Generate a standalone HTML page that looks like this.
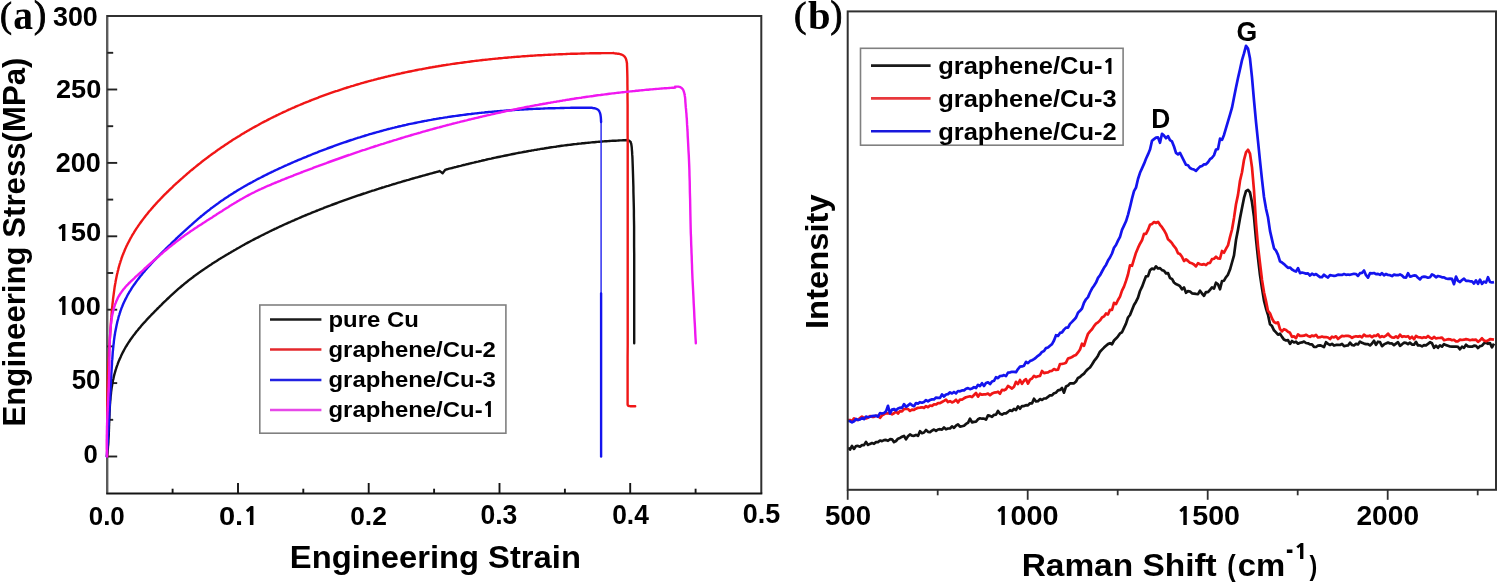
<!DOCTYPE html><html><head><meta charset="utf-8"><title>Figure</title><style>html,body{margin:0;padding:0;background:#fff;width:1500px;height:584px;overflow:hidden}svg{display:block}text{font-family:'Liberation Sans', Arial, Helvetica, sans-serif;font-weight:bold}</style></head><body>
<svg width="1500" height="584" viewBox="0 0 1500 584">
<rect width="1500" height="584" fill="#fff"/>
<path d="M107.2,493.5 V15.9 H761.3 V493.5" fill="none" stroke="#303030" stroke-width="2"/>
<line x1="106.2" y1="493.5" x2="762.3" y2="493.5" stroke="#141414" stroke-width="2.1"/>
<line x1="107.2" y1="16.9" x2="107.2" y2="492.5" stroke="#5c5c5c" stroke-width="2"/>
<line x1="107.2" y1="419.8" x2="113.2" y2="419.8" stroke="#222" stroke-width="1.9"/>
<line x1="107.2" y1="383.1" x2="117.2" y2="383.1" stroke="#222" stroke-width="1.9"/>
<line x1="107.2" y1="346.4" x2="113.2" y2="346.4" stroke="#222" stroke-width="1.9"/>
<line x1="107.2" y1="309.7" x2="117.2" y2="309.7" stroke="#222" stroke-width="1.9"/>
<line x1="107.2" y1="273.0" x2="113.2" y2="273.0" stroke="#222" stroke-width="1.9"/>
<line x1="107.2" y1="236.3" x2="117.2" y2="236.3" stroke="#222" stroke-width="1.9"/>
<line x1="107.2" y1="199.6" x2="113.2" y2="199.6" stroke="#222" stroke-width="1.9"/>
<line x1="107.2" y1="162.9" x2="117.2" y2="162.9" stroke="#222" stroke-width="1.9"/>
<line x1="107.2" y1="126.2" x2="113.2" y2="126.2" stroke="#222" stroke-width="1.9"/>
<line x1="107.2" y1="89.5" x2="117.2" y2="89.5" stroke="#222" stroke-width="1.9"/>
<line x1="107.2" y1="52.8" x2="113.2" y2="52.8" stroke="#222" stroke-width="1.9"/>
<line x1="107.2" y1="456.5" x2="117.2" y2="456.5" stroke="#222" stroke-width="1.9"/>
<line x1="172.6" y1="493.5" x2="172.6" y2="488.7" stroke="#141414" stroke-width="1.9"/>
<line x1="238.0" y1="493.5" x2="238.0" y2="483.0" stroke="#141414" stroke-width="1.9"/>
<line x1="303.3" y1="493.5" x2="303.3" y2="488.7" stroke="#141414" stroke-width="1.9"/>
<line x1="368.7" y1="493.5" x2="368.7" y2="483.0" stroke="#141414" stroke-width="1.9"/>
<line x1="434.1" y1="493.5" x2="434.1" y2="488.7" stroke="#141414" stroke-width="1.9"/>
<line x1="499.5" y1="493.5" x2="499.5" y2="483.0" stroke="#141414" stroke-width="1.9"/>
<line x1="564.9" y1="493.5" x2="564.9" y2="488.7" stroke="#141414" stroke-width="1.9"/>
<line x1="630.2" y1="493.5" x2="630.2" y2="483.0" stroke="#141414" stroke-width="1.9"/>
<line x1="695.6" y1="493.5" x2="695.6" y2="488.7" stroke="#141414" stroke-width="1.9"/>
<polyline points="106.9,456.4 107.1,455.0 107.3,453.6 107.5,452.1 107.6,450.7 107.8,449.2 107.9,447.8 108.0,446.3 108.2,444.8 108.3,443.3 108.4,441.9 108.4,440.4 108.5,438.9 108.6,437.4 108.7,435.9 108.8,434.4 108.8,432.9 108.9,431.4 108.9,429.9 109.0,428.4 109.0,426.9 109.1,425.4 109.1,423.8 109.2,422.3 109.2,420.8 109.3,419.3 109.4,417.8 109.4,416.2 109.5,414.7 109.5,413.2 109.6,411.7 109.7,410.2 109.7,408.6 109.8,407.1 109.9,405.6 110.0,404.1 110.1,402.6 110.2,401.1 110.4,399.5 110.5,398.0 110.6,396.5 110.8,395.0 111.0,393.5 111.1,392.0 111.3,390.5 111.5,389.1 111.7,387.6 112.0,386.1 112.2,384.6 112.5,383.1 112.8,381.7 113.0,380.2 113.4,378.8 113.7,377.3 114.0,375.9 114.4,374.4 114.8,373.0 115.2,371.6 115.6,370.2 116.1,368.7 116.5,367.3 117.0,365.9 117.5,364.6 118.0,363.2 118.5,361.8 119.1,360.4 119.7,359.1 120.3,357.7 120.9,356.4 121.5,355.0 122.1,353.7 122.8,352.4 123.5,351.1 124.2,349.8 124.9,348.5 125.6,347.2 126.4,346.0 127.2,344.7 128.0,343.4 128.8,342.2 129.6,341.0 130.4,339.7 131.3,338.5 132.2,337.3 133.0,336.1 133.9,334.9 134.9,333.7 135.8,332.5 136.7,331.3 137.7,330.2 138.6,329.0 139.6,327.9 140.6,326.7 141.5,325.6 142.5,324.4 143.5,323.3 144.6,322.2 145.6,321.1 146.6,319.9 147.6,318.8 148.7,317.7 149.7,316.6 150.8,315.5 151.8,314.4 152.9,313.3 153.9,312.3 155.0,311.2 156.1,310.1 157.1,309.0 158.2,308.0 159.3,306.9 160.3,305.8 161.4,304.8 162.5,303.7 163.5,302.7 164.6,301.6 165.7,300.6 166.8,299.5 167.9,298.5 169.0,297.5 170.1,296.4 171.2,295.4 172.3,294.4 173.4,293.4 174.5,292.4 175.6,291.4 176.7,290.4 177.8,289.4 178.9,288.4 180.1,287.5 181.2,286.5 182.4,285.5 183.5,284.6 184.6,283.6 185.8,282.7 187.0,281.8 188.1,280.8 189.3,279.9 190.5,279.0 191.7,278.1 192.9,277.2 194.0,276.3 195.2,275.4 196.4,274.6 197.6,273.7 198.9,272.8 200.1,271.9 201.3,271.1 202.5,270.2 203.7,269.4 205.0,268.6 206.2,267.7 207.4,266.9 208.7,266.1 209.9,265.2 211.2,264.4 212.4,263.6 213.7,262.8 214.9,262.0 216.2,261.2 217.4,260.4 218.7,259.6 220.0,258.8 221.2,258.0 222.5,257.3 223.8,256.5 225.0,255.7 226.3,254.9 227.6,254.2 228.9,253.4 230.2,252.7 231.4,251.9 232.7,251.2 234.0,250.4 235.3,249.7 236.6,248.9 237.9,248.2 239.2,247.5 240.5,246.7 241.8,246.0 243.1,245.3 244.4,244.6 245.7,243.8 247.0,243.1 248.3,242.4 249.6,241.7 250.9,241.0 252.3,240.3 253.6,239.6 254.9,238.9 256.2,238.2 257.6,237.6 258.9,236.9 260.2,236.2 261.5,235.5 262.9,234.9 264.2,234.2 265.5,233.5 266.9,232.9 268.2,232.2 269.6,231.5 270.9,230.9 272.2,230.2 273.6,229.6 274.9,228.9 276.3,228.3 277.6,227.7 279.0,227.0 280.3,226.4 281.7,225.8 283.1,225.1 284.4,224.5 285.8,223.9 287.1,223.3 288.5,222.7 289.9,222.1 291.2,221.5 292.6,220.9 294.0,220.3 295.3,219.7 296.7,219.1 298.1,218.5 299.5,217.9 300.8,217.3 302.2,216.7 303.6,216.1 305.0,215.5 306.4,215.0 307.7,214.4 309.1,213.8 310.5,213.3 311.9,212.7 313.3,212.1 314.7,211.6 316.1,211.0 317.5,210.5 318.9,209.9 320.2,209.3 321.6,208.8 323.0,208.3 324.4,207.7 325.8,207.2 327.2,206.6 328.6,206.1 330.0,205.6 331.5,205.0 332.9,204.5 334.3,204.0 335.7,203.5 337.1,203.0 338.5,202.4 339.9,201.9 341.3,201.4 342.7,200.9 344.1,200.4 345.6,199.9 347.0,199.4 348.4,198.9 349.8,198.4 351.2,197.9 352.6,197.4 354.1,196.9 355.5,196.4 356.9,195.9 358.3,195.4 359.8,195.0 361.2,194.5 362.6,194.0 364.0,193.5 365.5,193.1 366.9,192.6 368.3,192.1 369.8,191.6 371.2,191.2 372.6,190.7 374.0,190.3 375.5,189.8 376.9,189.3 378.3,188.9 379.8,188.4 381.2,188.0 382.6,187.5 384.1,187.1 385.5,186.6 387.0,186.2 388.4,185.8 389.8,185.3 391.3,184.9 392.7,184.4 394.2,184.0 395.6,183.6 397.0,183.1 398.5,182.7 399.9,182.3 401.4,181.9 402.8,181.4 404.2,181.0 405.7,180.6 407.1,180.2 408.6,179.8 410.0,179.3 411.5,178.9 412.9,178.5 414.4,178.1 415.8,177.7 417.3,177.3 418.7,176.9 420.1,176.5 421.6,176.1 423.0,175.7 424.5,175.3 425.9,174.9 427.4,174.5 428.8,174.1 430.3,173.7 431.7,173.3 433.2,172.9 434.6,172.5 436.1,172.1 437.5,171.7 439.0,171.4 439.5,170.9 442.6,173.2 445.5,169.6 446.2,169.5 447.7,169.1 449.1,168.7 450.6,168.3 452.0,168.0 453.5,167.6 454.9,167.2 456.4,166.9 457.8,166.5 459.3,166.1 460.7,165.8 462.2,165.4 463.6,165.0 465.1,164.7 466.5,164.3 468.0,164.0 469.4,163.6 470.9,163.3 472.3,162.9 473.8,162.6 475.2,162.2 476.7,161.9 478.2,161.6 479.6,161.2 481.1,160.9 482.5,160.5 484.0,160.2 485.4,159.9 486.9,159.5 488.3,159.2 489.8,158.9 491.3,158.6 492.7,158.2 494.2,157.9 495.6,157.6 497.1,157.3 498.5,157.0 500.0,156.7 501.5,156.4 502.9,156.1 504.4,155.8 505.8,155.5 507.3,155.2 508.8,154.9 510.2,154.6 511.7,154.3 513.1,154.0 514.6,153.7 516.1,153.4 517.5,153.1 519.0,152.8 520.5,152.6 521.9,152.3 523.4,152.0 524.9,151.7 526.3,151.5 527.8,151.2 529.3,150.9 530.7,150.7 532.2,150.4 533.7,150.2 535.1,149.9 536.6,149.7 538.1,149.4 539.6,149.2 541.0,148.9 542.5,148.7 544.0,148.5 545.5,148.2 546.9,148.0 548.4,147.8 549.9,147.5 551.4,147.3 552.8,147.1 554.3,146.9 555.8,146.7 557.3,146.4 558.8,146.2 560.2,146.0 561.7,145.8 563.2,145.6 564.7,145.4 566.2,145.2 567.7,145.0 569.1,144.9 570.6,144.7 572.1,144.5 573.6,144.3 575.1,144.1 576.6,144.0 578.1,143.8 579.6,143.6 581.0,143.5 582.5,143.3 584.0,143.2 585.5,143.0 587.0,142.9 588.5,142.7 590.0,142.6 591.5,142.4 593.0,142.3 594.5,142.2 596.0,142.0 597.5,141.9 599.0,141.8 600.5,141.7 602.0,141.5 603.5,141.4 605.0,141.3 606.5,141.2 608.0,141.1 609.5,141.0 611.0,140.9 612.6,140.8 614.1,140.7 615.6,140.7 617.1,140.6 618.6,140.5 620.1,140.4 621.6,140.4 623.2,140.3 624.7,140.2 626.2,140.2 626.1,140.0 626.2,140.0 626.3,140.1 626.5,140.1 626.8,140.1 627.1,140.2 627.5,140.3 628.0,140.3 628.4,140.4 628.8,140.6 629.2,140.8 629.5,141.0 629.8,141.3 630.1,141.5 630.4,141.9 630.7,142.2 630.9,142.9 631.2,143.7 631.4,144.9 631.6,146.2 631.8,147.9 631.9,149.8 632.1,151.9 632.2,154.4 632.4,156.9 632.5,159.5 632.6,162.2 632.7,165.0 632.8,167.9 632.9,170.9 633.0,174.0 633.1,177.3 633.2,180.6 633.3,184.0 633.4,187.4 633.4,191.0 633.5,194.7 633.6,198.4 633.7,202.3 633.8,206.2 633.9,210.6 633.9,215.4 634.0,220.7 634.1,226.4 634.1,232.6 634.1,239.2 634.1,246.2 634.2,253.8 634.2,261.3 634.2,268.9 634.2,276.6 634.2,284.3 634.2,292.0 634.2,299.8 634.2,307.7 634.2,315.6 634.2,322.5 634.2,328.5 634.2,333.4 634.2,337.4 634.2,340.3 634.2,342.3 634.2,343.3" fill="none" stroke="#121212" stroke-width="2.4" stroke-linejoin="round" stroke-linecap="round"/>
<polyline points="107.1,456.5 107.1,455.0 107.1,453.5 107.1,452.0 107.1,450.5 107.1,449.0 107.1,447.5 107.1,446.0 107.1,444.5 107.1,443.0 107.1,441.5 107.1,440.0 107.2,438.5 107.2,437.0 107.2,435.5 107.2,434.0 107.2,432.5 107.2,431.0 107.2,429.5 107.2,428.0 107.2,426.5 107.2,425.0 107.2,423.5 107.2,422.0 107.2,420.5 107.2,419.0 107.2,417.5 107.2,416.0 107.3,414.5 107.3,413.0 107.3,411.5 107.3,410.0 107.3,408.5 107.3,407.0 107.3,405.5 107.3,404.0 107.4,402.5 107.4,401.0 107.4,399.5 107.4,398.0 107.4,396.5 107.5,395.1 107.5,393.6 107.5,392.1 107.5,390.6 107.6,389.1 107.6,387.6 107.6,386.1 107.7,384.6 107.7,383.1 107.8,381.6 107.8,380.1 107.8,378.7 107.9,377.2 107.9,375.7 108.0,374.2 108.0,372.7 108.1,371.2 108.2,369.7 108.2,368.2 108.3,366.7 108.3,365.3 108.4,363.8 108.5,362.3 108.6,360.8 108.6,359.3 108.7,357.8 108.8,356.3 108.9,354.8 108.9,353.3 109.0,351.8 109.1,350.4 109.2,348.9 109.3,347.4 109.4,345.9 109.5,344.4 109.6,342.9 109.7,341.4 109.8,339.9 109.9,338.4 110.0,336.9 110.1,335.4 110.2,333.9 110.3,332.4 110.4,330.9 110.5,329.4 110.6,327.9 110.7,326.4 110.8,324.9 110.9,323.4 111.0,321.9 111.1,320.4 111.2,318.9 111.4,317.4 111.5,315.8 111.6,314.3 111.7,312.8 111.8,311.3 112.0,309.8 112.1,308.3 112.2,306.8 112.4,305.3 112.5,303.8 112.7,302.3 112.9,300.8 113.0,299.3 113.2,297.8 113.4,296.3 113.6,294.8 113.8,293.3 114.0,291.8 114.2,290.3 114.4,288.8 114.6,287.3 114.9,285.8 115.1,284.3 115.4,282.9 115.6,281.4 115.9,279.9 116.2,278.5 116.5,277.0 116.8,275.5 117.1,274.1 117.5,272.6 117.8,271.2 118.2,269.8 118.5,268.3 118.9,266.9 119.3,265.5 119.7,264.0 120.2,262.6 120.6,261.2 121.1,259.8 121.5,258.4 122.0,257.0 122.5,255.6 123.1,254.3 123.6,252.9 124.2,251.5 124.7,250.2 125.3,248.8 125.9,247.5 126.5,246.1 127.2,244.8 127.8,243.5 128.5,242.2 129.2,240.9 129.9,239.5 130.6,238.2 131.3,237.0 132.0,235.7 132.8,234.4 133.6,233.1 134.3,231.9 135.1,230.6 135.9,229.3 136.7,228.1 137.6,226.9 138.4,225.6 139.3,224.4 140.1,223.2 141.0,222.0 141.9,220.8 142.8,219.6 143.7,218.4 144.6,217.2 145.5,216.0 146.5,214.8 147.4,213.7 148.3,212.5 149.3,211.3 150.3,210.2 151.3,209.0 152.3,207.9 153.2,206.8 154.3,205.6 155.3,204.5 156.3,203.4 157.3,202.3 158.3,201.2 159.4,200.1 160.4,199.0 161.5,197.9 162.5,196.8 163.6,195.7 164.6,194.7 165.7,193.6 166.8,192.5 167.9,191.5 169.0,190.4 170.0,189.4 171.1,188.3 172.2,187.3 173.3,186.2 174.4,185.2 175.5,184.2 176.6,183.1 177.8,182.1 178.9,181.1 180.0,180.1 181.1,179.1 182.3,178.1 183.4,177.1 184.5,176.1 185.7,175.1 186.8,174.1 187.9,173.1 189.1,172.2 190.2,171.2 191.4,170.2 192.6,169.3 193.7,168.3 194.9,167.4 196.1,166.4 197.2,165.5 198.4,164.5 199.6,163.6 200.8,162.7 201.9,161.7 203.1,160.8 204.3,159.9 205.5,159.0 206.7,158.1 207.9,157.2 209.1,156.3 210.3,155.4 211.5,154.5 212.8,153.6 214.0,152.7 215.2,151.9 216.4,151.0 217.6,150.1 218.9,149.3 220.1,148.4 221.3,147.6 222.6,146.7 223.8,145.9 225.0,145.1 226.3,144.2 227.5,143.4 228.8,142.6 230.0,141.8 231.3,140.9 232.5,140.1 233.8,139.3 235.1,138.5 236.3,137.7 237.6,136.9 238.9,136.2 240.1,135.4 241.4,134.6 242.7,133.8 244.0,133.1 245.2,132.3 246.5,131.6 247.8,130.8 249.1,130.1 250.4,129.3 251.7,128.6 253.0,127.8 254.3,127.1 255.6,126.4 256.9,125.7 258.2,125.0 259.5,124.2 260.8,123.5 262.1,122.8 263.4,122.1 264.8,121.4 266.1,120.8 267.4,120.1 268.7,119.4 270.0,118.7 271.4,118.0 272.7,117.4 274.0,116.7 275.4,116.1 276.7,115.4 278.0,114.8 279.4,114.1 280.7,113.5 282.1,112.8 283.4,112.2 284.8,111.6 286.1,111.0 287.5,110.3 288.8,109.7 290.2,109.1 291.5,108.5 292.9,107.9 294.3,107.3 295.6,106.7 297.0,106.1 298.4,105.5 299.7,105.0 301.1,104.4 302.5,103.8 303.9,103.2 305.2,102.7 306.6,102.1 308.0,101.6 309.4,101.0 310.8,100.5 312.1,99.9 313.5,99.4 314.9,98.8 316.3,98.3 317.7,97.8 319.1,97.2 320.5,96.7 321.9,96.2 323.3,95.7 324.7,95.2 326.1,94.7 327.5,94.2 328.9,93.7 330.3,93.2 331.7,92.7 333.1,92.2 334.6,91.7 336.0,91.2 337.4,90.8 338.8,90.3 340.2,89.8 341.6,89.4 343.1,88.9 344.5,88.4 345.9,88.0 347.3,87.5 348.8,87.1 350.2,86.7 351.6,86.2 353.0,85.8 354.5,85.3 355.9,84.9 357.3,84.5 358.8,84.1 360.2,83.7 361.7,83.2 363.1,82.8 364.5,82.4 366.0,82.0 367.4,81.6 368.9,81.2 370.3,80.8 371.8,80.4 373.2,80.1 374.7,79.7 376.1,79.3 377.6,78.9 379.0,78.5 380.5,78.2 381.9,77.8 383.4,77.5 384.8,77.1 386.3,76.7 387.8,76.4 389.2,76.0 390.7,75.7 392.2,75.3 393.6,75.0 395.1,74.7 396.5,74.3 398.0,74.0 399.5,73.7 400.9,73.4 402.4,73.0 403.9,72.7 405.4,72.4 406.8,72.1 408.3,71.8 409.8,71.5 411.3,71.2 412.7,70.9 414.2,70.6 415.7,70.3 417.2,70.0 418.6,69.7 420.1,69.4 421.6,69.2 423.1,68.9 424.6,68.6 426.0,68.3 427.5,68.1 429.0,67.8 430.5,67.5 432.0,67.3 433.5,67.0 434.9,66.8 436.4,66.5 437.9,66.3 439.4,66.0 440.9,65.8 442.4,65.5 443.9,65.3 445.4,65.1 446.9,64.8 448.3,64.6 449.8,64.4 451.3,64.1 452.8,63.9 454.3,63.7 455.8,63.5 457.3,63.3 458.8,63.1 460.3,62.9 461.8,62.7 463.3,62.5 464.8,62.3 466.3,62.1 467.8,61.9 469.3,61.7 470.7,61.5 472.2,61.3 473.7,61.1 475.2,60.9 476.7,60.7 478.2,60.6 479.7,60.4 481.2,60.2 482.7,60.0 484.2,59.9 485.7,59.7 487.2,59.6 488.7,59.4 490.2,59.2 491.7,59.1 493.2,58.9 494.7,58.8 496.2,58.6 497.7,58.5 499.2,58.3 500.7,58.2 502.2,58.1 503.7,57.9 505.2,57.8 506.7,57.7 508.2,57.5 509.7,57.4 511.2,57.3 512.7,57.1 514.2,57.0 515.7,56.9 517.2,56.8 518.7,56.7 520.2,56.6 521.7,56.4 523.2,56.3 524.7,56.2 526.2,56.1 527.7,56.0 529.2,55.9 530.7,55.8 532.2,55.7 533.7,55.6 535.2,55.5 536.7,55.4 538.1,55.3 539.6,55.3 541.1,55.2 542.6,55.1 544.1,55.0 545.6,54.9 547.1,54.9 548.6,54.8 550.1,54.7 551.6,54.6 553.1,54.6 554.6,54.5 556.1,54.4 557.5,54.4 559.0,54.3 560.5,54.2 562.0,54.2 563.5,54.1 565.0,54.1 566.5,54.0 568.0,53.9 569.4,53.9 570.9,53.8 572.4,53.8 573.9,53.8 575.4,53.7 576.9,53.7 578.3,53.6 579.8,53.6 581.3,53.5 582.8,53.5 584.2,53.5 585.7,53.4 587.2,53.4 588.7,53.4 590.2,53.3 591.6,53.3 593.1,53.3 594.6,53.3 596.0,53.2 597.5,53.2 599.0,53.2 600.5,53.2 601.9,53.1 603.4,53.1 604.9,53.1 606.3,53.1 607.8,53.1 609.2,53.1 610.7,53.1 612.2,53.1 613.6,53.0 614.1,53.3 614.3,53.3 614.6,53.4 615.1,53.4 615.6,53.5 616.2,53.5 617.0,53.6 617.8,53.7 618.6,53.8 619.4,53.9 620.1,54.1 620.8,54.3 621.4,54.5 621.9,54.7 622.5,55.0 622.9,55.2 623.4,55.5 623.8,55.9 624.2,56.2 624.5,56.6 624.9,57.0 625.2,57.4 625.4,57.9 625.7,58.3 625.9,58.8 626.1,59.4 626.3,60.0 626.4,60.6 626.6,61.2 626.7,61.9 626.8,62.6 627.0,63.4 627.0,64.9 627.1,67.1 627.2,70.1 627.3,73.9 627.4,78.4 627.4,83.6 627.5,89.6 627.5,96.4 627.6,105.1 627.6,115.8 627.6,128.4 627.7,143.1 627.7,159.7 627.7,178.2 627.7,198.8 627.7,221.2 627.7,242.6 627.7,262.7 627.7,281.6 627.7,299.3 627.7,315.8 627.7,331.1 627.7,345.3 627.6,358.2 627.6,369.6 627.6,379.3 627.6,387.5 627.6,394.1 627.6,399.1 627.6,402.6 627.6,404.4 627.7,404.7 627.7,404.9 627.8,405.1 627.9,405.3 628.0,405.5 628.1,405.6 628.3,405.8 628.5,405.9 628.7,405.9 629.0,406.0 629.3,406.1 629.8,406.1 630.2,406.2 630.8,406.2 631.3,406.2 632.0,406.2 632.7,406.3 633.3,406.3 633.9,406.3 634.3,406.3 634.7,406.3 634.9,406.3 635.1,406.3 635.2,406.3" fill="none" stroke="#f01616" stroke-width="2.4" stroke-linejoin="round" stroke-linecap="round"/>
<line x1="601.1" y1="121" x2="601.1" y2="294" stroke="#3030f0" stroke-width="1.5"/>
<line x1="601.1" y1="293.5" x2="601.1" y2="456.6" stroke="#1414ee" stroke-width="2.4" stroke-linecap="round"/>
<polyline points="106.8,456.5 106.9,455.0 107.0,453.5 107.1,452.0 107.2,450.5 107.3,449.0 107.4,447.5 107.5,446.0 107.6,444.5 107.7,443.0 107.8,441.5 107.9,440.0 108.0,438.5 108.0,437.0 108.1,435.5 108.2,434.0 108.3,432.5 108.4,431.0 108.5,429.5 108.5,428.1 108.6,426.6 108.7,425.1 108.8,423.6 108.9,422.1 108.9,420.6 109.0,419.1 109.1,417.6 109.2,416.2 109.3,414.7 109.3,413.2 109.4,411.7 109.5,410.2 109.6,408.7 109.6,407.2 109.7,405.8 109.8,404.3 109.9,402.8 109.9,401.3 110.0,399.8 110.1,398.3 110.2,396.8 110.2,395.3 110.3,393.8 110.4,392.3 110.5,390.8 110.5,389.4 110.6,387.9 110.7,386.4 110.8,384.9 110.9,383.4 110.9,381.9 111.0,380.4 111.1,378.9 111.2,377.4 111.3,375.9 111.3,374.3 111.4,372.8 111.5,371.3 111.6,369.8 111.7,368.3 111.8,366.8 111.9,365.3 112.0,363.8 112.0,362.2 112.1,360.7 112.3,359.2 112.4,357.7 112.5,356.2 112.6,354.7 112.7,353.1 112.8,351.6 113.0,350.1 113.1,348.6 113.3,347.1 113.4,345.6 113.6,344.1 113.8,342.6 113.9,341.1 114.1,339.6 114.3,338.1 114.5,336.6 114.8,335.1 115.0,333.6 115.2,332.2 115.5,330.7 115.8,329.2 116.1,327.7 116.4,326.3 116.7,324.8 117.0,323.4 117.3,321.9 117.7,320.5 118.1,319.1 118.4,317.7 118.8,316.2 119.3,314.8 119.7,313.4 120.2,312.0 120.6,310.7 121.1,309.3 121.6,307.9 122.2,306.5 122.7,305.2 123.3,303.8 123.9,302.5 124.5,301.2 125.1,299.9 125.8,298.6 126.5,297.3 127.1,296.0 127.8,294.7 128.6,293.4 129.3,292.1 130.1,290.9 130.9,289.6 131.6,288.4 132.4,287.2 133.3,285.9 134.1,284.7 135.0,283.5 135.8,282.3 136.7,281.1 137.6,279.9 138.5,278.7 139.4,277.5 140.3,276.3 141.3,275.2 142.2,274.0 143.2,272.8 144.2,271.7 145.1,270.5 146.1,269.4 147.1,268.3 148.1,267.1 149.2,266.0 150.2,264.9 151.2,263.8 152.2,262.7 153.3,261.5 154.3,260.4 155.4,259.3 156.4,258.2 157.5,257.2 158.6,256.1 159.6,255.0 160.7,253.9 161.8,252.8 162.9,251.7 164.0,250.7 165.0,249.6 166.1,248.5 167.2,247.5 168.3,246.4 169.4,245.3 170.5,244.3 171.6,243.2 172.6,242.2 173.7,241.1 174.8,240.1 175.9,239.0 177.0,238.0 178.1,236.9 179.2,235.9 180.3,234.9 181.4,233.8 182.5,232.8 183.6,231.8 184.7,230.8 185.8,229.8 186.9,228.8 188.0,227.8 189.1,226.8 190.2,225.8 191.4,224.8 192.5,223.8 193.6,222.8 194.7,221.8 195.9,220.8 197.0,219.9 198.1,218.9 199.3,217.9 200.4,217.0 201.5,216.0 202.7,215.1 203.8,214.2 205.0,213.2 206.2,212.3 207.3,211.4 208.5,210.5 209.7,209.6 210.8,208.6 212.0,207.8 213.2,206.9 214.4,206.0 215.6,205.1 216.8,204.2 218.0,203.4 219.2,202.5 220.4,201.6 221.6,200.8 222.9,200.0 224.1,199.1 225.3,198.3 226.5,197.5 227.8,196.7 229.0,195.8 230.3,195.0 231.5,194.2 232.8,193.4 234.0,192.6 235.3,191.9 236.6,191.1 237.8,190.3 239.1,189.5 240.4,188.8 241.7,188.0 242.9,187.3 244.2,186.5 245.5,185.8 246.8,185.1 248.1,184.3 249.4,183.6 250.7,182.9 252.0,182.2 253.3,181.4 254.7,180.7 256.0,180.0 257.3,179.3 258.6,178.6 259.9,178.0 261.3,177.3 262.6,176.6 263.9,175.9 265.3,175.2 266.6,174.6 267.9,173.9 269.3,173.2 270.6,172.6 272.0,171.9 273.3,171.3 274.7,170.6 276.0,170.0 277.4,169.4 278.8,168.7 280.1,168.1 281.5,167.5 282.8,166.9 284.2,166.2 285.6,165.6 287.0,165.0 288.3,164.4 289.7,163.8 291.1,163.2 292.4,162.6 293.8,162.0 295.2,161.4 296.6,160.8 298.0,160.2 299.4,159.6 300.7,159.1 302.1,158.5 303.5,157.9 304.9,157.3 306.3,156.8 307.7,156.2 309.1,155.6 310.5,155.1 311.8,154.5 313.2,153.9 314.6,153.4 316.0,152.8 317.4,152.3 318.8,151.7 320.2,151.2 321.6,150.7 323.0,150.1 324.4,149.6 325.8,149.1 327.2,148.5 328.6,148.0 330.1,147.5 331.5,147.0 332.9,146.5 334.3,145.9 335.7,145.4 337.1,144.9 338.5,144.4 339.9,143.9 341.3,143.4 342.8,142.9 344.2,142.4 345.6,142.0 347.0,141.5 348.4,141.0 349.8,140.5 351.3,140.0 352.7,139.6 354.1,139.1 355.5,138.6 357.0,138.2 358.4,137.7 359.8,137.3 361.2,136.8 362.7,136.4 364.1,136.0 365.5,135.5 367.0,135.1 368.4,134.7 369.8,134.2 371.3,133.8 372.7,133.4 374.1,133.0 375.6,132.6 377.0,132.2 378.5,131.8 379.9,131.4 381.4,131.0 382.8,130.6 384.2,130.2 385.7,129.8 387.1,129.4 388.6,129.0 390.0,128.7 391.5,128.3 392.9,127.9 394.4,127.6 395.8,127.2 397.3,126.9 398.7,126.5 400.2,126.2 401.6,125.9 403.1,125.5 404.6,125.2 406.0,124.9 407.5,124.5 408.9,124.2 410.4,123.9 411.9,123.6 413.3,123.3 414.8,123.0 416.3,122.7 417.7,122.4 419.2,122.1 420.6,121.8 422.1,121.5 423.6,121.2 425.1,120.9 426.5,120.7 428.0,120.4 429.5,120.1 430.9,119.9 432.4,119.6 433.9,119.3 435.4,119.1 436.8,118.8 438.3,118.6 439.8,118.3 441.3,118.1 442.7,117.9 444.2,117.6 445.7,117.4 447.2,117.2 448.6,116.9 450.1,116.7 451.6,116.5 453.1,116.3 454.6,116.1 456.1,115.9 457.5,115.7 459.0,115.5 460.5,115.3 462.0,115.1 463.5,114.9 465.0,114.7 466.4,114.5 467.9,114.3 469.4,114.1 470.9,114.0 472.4,113.8 473.9,113.6 475.4,113.4 476.9,113.3 478.3,113.1 479.8,112.9 481.3,112.8 482.8,112.6 484.3,112.5 485.8,112.3 487.3,112.2 488.8,112.0 490.3,111.9 491.8,111.8 493.3,111.6 494.7,111.5 496.2,111.4 497.7,111.2 499.2,111.1 500.7,111.0 502.2,110.9 503.7,110.8 505.2,110.6 506.7,110.5 508.2,110.4 509.7,110.3 511.2,110.2 512.7,110.1 514.2,110.0 515.7,109.9 517.2,109.8 518.7,109.7 520.2,109.6 521.7,109.5 523.2,109.5 524.7,109.4 526.2,109.3 527.6,109.2 529.1,109.1 530.6,109.1 532.1,109.0 533.6,108.9 535.1,108.9 536.6,108.8 538.1,108.7 539.6,108.7 541.1,108.6 542.6,108.6 544.1,108.5 545.6,108.4 547.1,108.4 548.6,108.3 550.1,108.3 551.6,108.3 553.1,108.2 554.6,108.2 556.1,108.1 557.6,108.1 559.1,108.1 560.6,108.0 562.1,108.0 563.6,108.0 565.1,107.9 566.6,107.9 568.1,107.9 569.6,107.9 571.1,107.8 572.6,107.8 574.1,107.8 575.6,107.8 577.1,107.8 578.5,107.8 580.0,107.8 581.5,107.7 583.0,107.7 584.5,107.7 586.0,107.7 587.5,107.7 589.0,107.7 590.5,107.7 592.0,107.7 592.1,107.9 592.2,107.9 592.4,108.0 592.7,108.0 593.0,108.1 593.4,108.1 593.9,108.2 594.5,108.3 595.0,108.4 595.5,108.5 596.0,108.7 596.4,108.8 596.8,109.0 597.2,109.2 597.6,109.5 598.0,109.7 598.3,110.0 598.6,110.3 598.9,110.7 599.2,111.1 599.4,111.5 599.6,112.0 599.9,112.5 600.0,113.1 600.2,113.7 600.4,114.3 600.5,115.0 600.6,115.7 600.7,116.4 600.8,117.2 600.9,118.1 600.9,118.9 601.0,119.7 601.0,120.4 601.0,120.9 601.1,121.3 601.1,121.7 601.1,121.9 601.1,122.0" fill="none" stroke="#1414ee" stroke-width="2.4" stroke-linejoin="round" stroke-linecap="round"/>
<polyline points="107.0,456.5 107.0,455.0 106.9,453.5 106.9,452.0 106.9,450.5 106.8,449.0 106.8,447.4 106.8,445.9 106.8,444.4 106.8,442.9 106.8,441.4 106.8,439.9 106.8,438.4 106.8,436.9 106.8,435.4 106.9,433.9 106.9,432.4 106.9,430.9 107.0,429.4 107.0,427.9 107.0,426.4 107.1,425.0 107.1,423.5 107.2,422.0 107.2,420.5 107.3,419.0 107.4,417.5 107.4,416.0 107.5,414.5 107.5,413.0 107.6,411.5 107.7,410.0 107.7,408.5 107.8,407.1 107.9,405.6 108.0,404.1 108.0,402.6 108.1,401.1 108.2,399.6 108.2,398.1 108.3,396.6 108.4,395.1 108.4,393.6 108.5,392.1 108.6,390.7 108.6,389.2 108.7,387.7 108.8,386.2 108.8,384.7 108.9,383.2 108.9,381.7 109.0,380.2 109.1,378.7 109.1,377.2 109.1,375.7 109.2,374.2 109.2,372.7 109.3,371.2 109.3,369.7 109.3,368.2 109.3,366.7 109.4,365.2 109.4,363.7 109.4,362.2 109.4,360.7 109.4,359.1 109.4,357.6 109.5,356.1 109.5,354.6 109.5,353.1 109.5,351.6 109.5,350.1 109.6,348.6 109.6,347.1 109.6,345.6 109.7,344.0 109.7,342.5 109.8,341.0 109.8,339.5 109.9,338.0 110.0,336.5 110.1,335.0 110.2,333.5 110.3,332.0 110.4,330.5 110.5,329.0 110.6,327.5 110.8,326.0 110.9,324.5 111.1,323.0 111.3,321.5 111.5,320.0 111.7,318.6 111.9,317.1 112.2,315.6 112.5,314.1 112.8,312.7 113.1,311.3 113.5,309.8 113.8,308.4 114.2,307.0 114.7,305.6 115.1,304.2 115.7,302.9 116.2,301.5 116.8,300.2 117.4,298.9 118.0,297.6 118.7,296.3 119.5,295.0 120.2,293.8 121.1,292.6 121.9,291.4 122.8,290.2 123.7,289.1 124.7,287.9 125.6,286.8 126.6,285.7 127.7,284.6 128.7,283.5 129.8,282.5 130.9,281.4 132.0,280.3 133.1,279.3 134.2,278.3 135.3,277.2 136.4,276.2 137.6,275.2 138.7,274.1 139.8,273.1 140.9,272.1 142.1,271.1 143.2,270.1 144.3,269.0 145.4,268.0 146.6,267.0 147.7,266.0 148.8,265.0 149.9,264.0 151.0,263.0 152.2,262.0 153.3,261.0 154.4,260.0 155.5,259.0 156.7,258.0 157.8,257.1 158.9,256.1 160.0,255.1 161.2,254.1 162.3,253.2 163.4,252.2 164.6,251.2 165.7,250.3 166.9,249.3 168.0,248.4 169.1,247.4 170.3,246.5 171.5,245.6 172.6,244.6 173.8,243.7 175.0,242.8 176.1,241.9 177.3,241.0 178.5,240.1 179.7,239.2 180.9,238.3 182.1,237.4 183.3,236.5 184.5,235.6 185.7,234.8 186.9,233.9 188.2,233.0 189.4,232.2 190.6,231.3 191.9,230.5 193.1,229.7 194.4,228.8 195.6,228.0 196.9,227.2 198.1,226.3 199.4,225.5 200.7,224.7 201.9,223.9 203.2,223.0 204.5,222.2 205.7,221.4 207.0,220.6 208.3,219.8 209.5,219.0 210.8,218.2 212.1,217.4 213.3,216.6 214.6,215.7 215.9,214.9 217.1,214.1 218.4,213.3 219.6,212.5 220.9,211.7 222.2,210.9 223.4,210.1 224.7,209.3 225.9,208.5 227.2,207.7 228.5,206.9 229.7,206.1 231.0,205.3 232.2,204.5 233.5,203.8 234.8,203.0 236.1,202.2 237.3,201.4 238.6,200.7 239.9,199.9 241.2,199.2 242.5,198.5 243.8,197.7 245.1,197.0 246.4,196.3 247.7,195.6 249.0,194.9 250.3,194.2 251.6,193.5 252.9,192.9 254.3,192.2 255.6,191.5 256.9,190.9 258.3,190.2 259.6,189.6 261.0,189.0 262.3,188.4 263.7,187.8 265.1,187.1 266.4,186.5 267.8,185.9 269.2,185.4 270.6,184.8 271.9,184.2 273.3,183.6 274.7,183.0 276.1,182.5 277.5,181.9 278.8,181.3 280.2,180.8 281.6,180.2 283.0,179.6 284.4,179.1 285.8,178.5 287.2,178.0 288.6,177.4 290.0,176.9 291.4,176.3 292.8,175.8 294.1,175.2 295.5,174.7 296.9,174.1 298.3,173.6 299.7,173.1 301.1,172.5 302.5,172.0 303.9,171.4 305.3,170.9 306.7,170.4 308.1,169.8 309.5,169.3 310.9,168.8 312.3,168.3 313.7,167.7 315.1,167.2 316.5,166.7 317.9,166.2 319.3,165.6 320.8,165.1 322.2,164.6 323.6,164.1 325.0,163.6 326.4,163.1 327.8,162.5 329.2,162.0 330.6,161.5 332.0,161.0 333.4,160.5 334.8,160.0 336.2,159.5 337.7,159.0 339.1,158.5 340.5,158.0 341.9,157.5 343.3,157.0 344.7,156.5 346.1,156.0 347.5,155.5 349.0,155.0 350.4,154.6 351.8,154.1 353.2,153.6 354.6,153.1 356.0,152.6 357.5,152.1 358.9,151.7 360.3,151.2 361.7,150.7 363.1,150.2 364.6,149.8 366.0,149.3 367.4,148.8 368.8,148.4 370.3,147.9 371.7,147.4 373.1,147.0 374.5,146.5 375.9,146.0 377.4,145.6 378.8,145.1 380.2,144.7 381.7,144.2 383.1,143.8 384.5,143.3 385.9,142.9 387.4,142.4 388.8,142.0 390.2,141.5 391.7,141.1 393.1,140.6 394.5,140.2 395.9,139.8 397.4,139.3 398.8,138.9 400.2,138.5 401.7,138.0 403.1,137.6 404.5,137.2 406.0,136.7 407.4,136.3 408.8,135.9 410.3,135.5 411.7,135.0 413.2,134.6 414.6,134.2 416.0,133.8 417.5,133.4 418.9,133.0 420.3,132.6 421.8,132.1 423.2,131.7 424.7,131.3 426.1,130.9 427.6,130.5 429.0,130.1 430.4,129.7 431.9,129.3 433.3,128.9 434.8,128.5 436.2,128.1 437.7,127.7 439.1,127.4 440.5,127.0 442.0,126.6 443.4,126.2 444.9,125.8 446.3,125.4 447.8,125.0 449.2,124.7 450.7,124.3 452.1,123.9 453.6,123.5 455.0,123.2 456.5,122.8 457.9,122.4 459.4,122.1 460.8,121.7 462.3,121.3 463.7,121.0 465.2,120.6 466.6,120.3 468.1,119.9 469.5,119.5 471.0,119.2 472.5,118.8 473.9,118.5 475.4,118.1 476.8,117.8 478.3,117.5 479.7,117.1 481.2,116.8 482.7,116.4 484.1,116.1 485.6,115.8 487.0,115.4 488.5,115.1 489.9,114.8 491.4,114.4 492.9,114.1 494.3,113.8 495.8,113.4 497.2,113.1 498.7,112.8 500.2,112.5 501.6,112.2 503.1,111.8 504.6,111.5 506.0,111.2 507.5,110.9 509.0,110.6 510.4,110.3 511.9,110.0 513.4,109.7 514.8,109.4 516.3,109.1 517.8,108.8 519.2,108.5 520.7,108.2 522.2,107.9 523.6,107.6 525.1,107.3 526.6,107.0 528.0,106.7 529.5,106.5 531.0,106.2 532.4,105.9 533.9,105.6 535.4,105.3 536.9,105.1 538.3,104.8 539.8,104.5 541.3,104.3 542.7,104.0 544.2,103.7 545.7,103.5 547.2,103.2 548.6,102.9 550.1,102.7 551.6,102.4 553.1,102.2 554.5,101.9 556.0,101.7 557.5,101.4 559.0,101.2 560.5,100.9 561.9,100.7 563.4,100.4 564.9,100.2 566.4,99.9 567.8,99.7 569.3,99.5 570.8,99.2 572.3,99.0 573.8,98.8 575.3,98.5 576.7,98.3 578.2,98.1 579.7,97.9 581.2,97.7 582.7,97.4 584.1,97.2 585.6,97.0 587.1,96.8 588.6,96.6 590.1,96.4 591.6,96.2 593.0,96.0 594.5,95.7 596.0,95.5 597.5,95.3 599.0,95.1 600.5,95.0 602.0,94.8 603.4,94.6 604.9,94.4 606.4,94.2 607.9,94.0 609.4,93.8 610.9,93.6 612.4,93.4 613.9,93.3 615.4,93.1 616.8,92.9 618.3,92.7 619.8,92.6 621.3,92.4 622.8,92.2 624.3,92.1 625.8,91.9 627.3,91.7 628.8,91.6 630.3,91.4 631.8,91.3 633.3,91.1 634.7,91.0 636.2,90.8 637.7,90.7 639.2,90.5 640.7,90.4 642.2,90.2 643.7,90.1 645.2,89.9 646.7,89.8 648.2,89.7 649.7,89.5 651.2,89.4 652.7,89.3 654.2,89.1 655.7,89.0 657.2,88.9 658.7,88.8 660.2,88.6 661.7,88.5 663.2,88.4 664.7,88.3 666.2,88.2 667.7,88.1 669.2,88.0 670.7,87.9 672.2,87.8 673.7,87.7 675.2,87.6 675.1,86.7 675.2,86.7 675.3,86.7 675.5,86.7 675.8,86.7 676.1,86.6 676.5,86.6 677.0,86.6 677.4,86.6 677.8,86.6 678.2,86.6 678.6,86.7 679.0,86.8 679.4,86.9 679.8,87.0 680.2,87.1 680.5,87.3 680.9,87.5 681.2,87.7 681.5,87.9 681.9,88.2 682.1,88.5 682.4,88.8 682.7,89.1 682.9,89.5 683.2,89.9 683.4,90.4 683.6,90.9 683.8,91.5 684.0,92.1 684.2,92.8 684.4,93.5 684.5,94.3 684.7,95.1 684.8,96.0 685.0,96.9 685.1,97.8 685.2,98.9 685.3,99.9 685.3,101.1 685.4,102.2 685.5,103.5 685.6,104.7 685.7,106.0 685.8,107.4 686.0,108.8 686.1,110.2 686.2,111.8 686.4,113.3 686.5,115.0 686.6,116.8 686.8,118.7 686.9,120.7 687.0,122.7 687.1,124.9 687.3,127.1 687.4,129.7 687.6,132.5 687.7,135.6 687.9,139.0 688.1,142.7 688.3,146.7 688.5,150.9 688.8,155.5 689.0,160.2 689.2,165.1 689.4,170.3 689.5,175.6 689.7,181.1 689.8,186.8 689.9,192.7 690.1,198.7 690.2,204.5 690.3,210.0 690.4,215.2 690.5,220.1 690.6,224.8 690.7,229.1 690.8,233.1 691.0,236.9 691.1,240.7 691.2,244.6 691.4,248.5 691.5,252.5 691.7,256.6 691.8,260.8 692.0,265.0 692.1,269.2 692.3,273.9 692.5,279.0 692.8,284.4 693.1,290.2 693.4,296.4 693.7,303.1 694.1,310.1 694.4,317.4 694.8,323.9 695.1,329.4 695.3,334.1 695.5,337.8 695.7,340.5 695.8,342.4 695.8,343.3" fill="none" stroke="#f018f0" stroke-width="2.4" stroke-linejoin="round" stroke-linecap="round"/>
<text transform="translate(52.98,26.37) scale(0.9686,1)" font-size="27.75" fill="#000">300</text>
<text transform="translate(56.00,97.69) scale(1.0371,1)" font-size="26.20" fill="#000">250</text>
<text transform="translate(55.81,172.38) scale(1.0082,1)" font-size="26.76" fill="#000">200</text>
<text transform="translate(55.84,241.29) scale(1.0644,1)" font-size="25.77" fill="#000"><tspan style="font-family:NanumGothic, 'Liberation Sans', sans-serif;font-weight:800" font-size="23.10">1</tspan>50</text>
<text transform="translate(55.88,315.09) scale(1.0237,1)" font-size="26.48" fill="#000"><tspan style="font-family:NanumGothic, 'Liberation Sans', sans-serif;font-weight:800" font-size="23.73">1</tspan>00</text>
<text transform="translate(71.78,389.18) scale(0.9529,1)" font-size="27.04" fill="#000">50</text>
<text transform="translate(83.42,462.99) scale(0.9804,1)" font-size="26.20" fill="#000">0</text>
<text transform="translate(88.71,524.68) scale(0.9750,1)" font-size="26.62" fill="#000">0.0</text>
<text transform="translate(218.89,524.88) scale(1.0925,1)" font-size="26.62" fill="#000">0.<tspan style="font-family:NanumGothic, 'Liberation Sans', sans-serif;font-weight:800" font-size="23.85">1</tspan></text>
<text transform="translate(350.19,524.68) scale(0.9922,1)" font-size="26.62" fill="#000">0.2</text>
<text transform="translate(480.49,524.38) scale(0.9814,1)" font-size="27.04" fill="#000">0.3</text>
<text transform="translate(612.19,524.08) scale(0.9760,1)" font-size="27.04" fill="#000">0.4</text>
<text transform="translate(742.77,523.48) scale(0.9963,1)" font-size="27.04" fill="#000">0.5</text>
<text transform="translate(289.82,568.37) scale(1.0449,1)" font-size="31.34" style="font-family:'Liberation Sans', Arial, Helvetica, sans-serif" fill="#000">Engineering Strain</text>
<text transform="translate(25.07,426.48) rotate(-90) scale(0.9945,1)" font-size="31.34" style="font-family:'Liberation Sans', Arial, Helvetica, sans-serif" fill="#000">Engineering Stress(MPa)</text>
<rect x="259.8" y="305" width="246.1" height="128.2" fill="#fff" stroke="#808080" stroke-width="1.6"/>
<line x1="270" y1="319.4" x2="321.4" y2="319.4" stroke="#1a1a1a" stroke-width="2.5"/>
<text transform="translate(328.49,326.69) scale(1.0862,1)" font-size="22.03" fill="#000">pure Cu</text>
<line x1="270" y1="349.6" x2="321.4" y2="349.6" stroke="#e4282c" stroke-width="2.5"/>
<text transform="translate(328.49,356.92) scale(1.0862,1)" font-size="22.03" fill="#000">graphene/Cu-2</text>
<line x1="270" y1="379.9" x2="321.4" y2="379.9" stroke="#2222e2" stroke-width="2.5"/>
<text transform="translate(328.49,387.15) scale(1.0862,1)" font-size="22.03" fill="#000">graphene/Cu-3</text>
<line x1="270" y1="410.1" x2="321.4" y2="410.1" stroke="#e648e8" stroke-width="2.5"/>
<text transform="translate(328.49,417.38) scale(1.0862,1)" font-size="22.03" fill="#000">graphene/Cu-<tspan style="font-family:NanumGothic, 'Liberation Sans', sans-serif;font-weight:800" font-size="19.74">1</tspan></text>
<text transform="translate(-0.01,27.19) scale(0.9694,1)" font-size="36.81" style="font-family:'Liberation Serif', 'Times New Roman', Times, serif;font-weight:normal" fill="#000" stroke="#000" stroke-width="0.9">(</text>
<text transform="translate(13.26,29.23) scale(0.9354,1)" font-size="42.29" style="font-family:'Liberation Serif', 'Times New Roman', Times, serif" fill="#000">a</text>
<text transform="translate(34.00,27.28) scale(0.9816,1)" font-size="37.22" style="font-family:'Liberation Serif', 'Times New Roman', Times, serif;font-weight:normal" fill="#000" stroke="#000" stroke-width="0.9">)</text>
<polyline points="848.0,447.7 850.0,449.6 852.0,445.9 854.0,448.9 856.0,446.0 858.0,445.9 860.0,446.7 862.0,445.2 864.0,445.1 866.0,441.9 868.0,444.9 870.0,443.9 872.0,443.0 874.0,443.8 876.0,442.1 878.0,442.1 880.0,440.5 882.0,441.1 884.0,440.1 886.0,439.9 888.0,440.8 890.0,439.2 892.0,439.3 894.0,442.1 896.0,441.0 898.0,438.7 900.0,437.9 902.0,436.8 904.0,435.9 906.0,439.3 908.0,436.3 910.0,434.5 912.0,435.7 914.0,435.8 916.0,434.9 918.0,435.9 920.0,431.2 922.0,433.2 924.0,432.5 926.0,430.0 928.0,431.8 930.0,432.1 932.0,430.7 934.0,429.5 936.0,430.9 938.0,429.5 940.0,429.2 942.0,429.6 944.0,427.5 946.0,429.3 948.0,428.5 950.0,428.5 952.0,426.4 954.0,427.8 956.0,425.6 958.0,424.3 960.0,426.7 962.0,426.2 964.0,425.8 966.0,423.9 968.0,422.8 970.0,418.7 972.0,422.4 974.0,421.9 976.0,421.7 978.0,419.3 980.0,418.3 982.0,418.7 984.0,418.6 986.0,419.6 988.0,415.4 990.0,415.9 992.0,416.9 994.0,414.8 996.0,414.6 998.0,411.0 1000.0,413.8 1002.0,414.6 1004.0,413.4 1006.0,413.3 1008.0,411.8 1010.0,410.2 1012.0,411.0 1014.0,408.8 1016.0,410.0 1018.0,406.4 1020.0,408.7 1022.0,406.0 1024.0,406.1 1026.0,405.2 1028.0,405.4 1030.0,403.3 1032.0,403.4 1034.0,398.7 1036.0,401.5 1038.0,401.2 1040.0,399.1 1042.0,400.0 1044.0,398.5 1046.0,398.3 1048.0,396.9 1050.0,395.3 1052.0,395.4 1054.0,393.3 1056.0,392.7 1058.0,390.4 1060.0,389.9 1062.0,388.0 1064.0,392.7 1066.0,386.5 1068.0,385.6 1070.0,383.4 1072.0,383.4 1074.0,383.3 1076.0,381.5 1078.0,377.9 1080.0,377.0 1082.0,375.1 1084.0,373.6 1086.0,371.0 1088.0,369.0 1090.0,367.5 1092.0,364.5 1094.0,361.2 1096.0,358.7 1098.0,355.7 1100.0,351.7 1102.0,349.6 1104.0,347.6 1106.0,345.8 1108.0,344.1 1110.0,343.2 1112.0,344.3 1114.0,340.5 1116.0,338.6 1118.0,336.3 1120.0,333.4 1122.0,332.3 1124.0,327.9 1126.0,323.6 1128.0,317.5 1130.0,315.0 1132.0,309.9 1134.0,305.0 1136.0,301.7 1138.0,297.6 1140.0,291.0 1142.0,286.9 1144.0,281.6 1146.0,276.3 1148.0,276.1 1150.0,270.3 1152.0,268.5 1154.0,269.2 1156.0,266.3 1158.0,268.5 1160.0,268.1 1162.0,270.1 1164.0,270.7 1166.0,273.4 1168.0,273.0 1170.0,278.1 1172.0,278.9 1174.0,282.5 1176.0,284.1 1178.0,284.9 1180.0,286.2 1182.0,289.4 1184.0,287.4 1186.0,292.8 1188.0,291.1 1190.0,291.5 1192.0,293.3 1194.0,293.6 1196.0,293.9 1198.0,294.1 1200.0,290.7 1202.0,293.5 1204.0,295.8 1206.0,292.0 1208.0,292.2 1210.0,289.8 1212.0,287.4 1214.0,288.6 1216.0,282.7 1218.0,284.3 1220.0,289.3 1222.0,281.1 1224.0,280.7 1226.0,277.2 1228.0,274.6 1230.0,269.6 1232.0,262.5 1234.0,255.4 1236.0,240.1 1238.0,229.7 1240.0,218.3 1242.0,208.0 1244.0,197.9 1246.0,191.1 1248.0,189.9 1250.0,192.4 1252.0,202.2 1254.0,216.8 1256.0,238.8 1258.0,257.9 1260.0,275.0 1262.0,288.3 1264.0,300.6 1266.0,308.5 1268.0,314.8 1270.0,324.3 1272.0,326.1 1274.0,330.3 1276.0,332.4 1278.0,334.7 1280.0,333.7 1282.0,336.9 1284.0,339.6 1286.0,340.5 1288.0,340.1 1290.0,343.9 1292.0,341.0 1294.0,342.5 1296.0,341.7 1298.0,343.7 1300.0,342.8 1302.0,342.4 1304.0,341.6 1306.0,343.0 1308.0,343.3 1310.0,344.4 1312.0,344.4 1314.0,346.9 1316.0,347.0 1318.0,345.6 1320.0,345.3 1322.0,346.1 1324.0,347.1 1326.0,342.2 1328.0,343.9 1330.0,345.0 1332.0,343.8 1334.0,345.6 1336.0,344.9 1338.0,344.9 1340.0,345.0 1342.0,343.9 1344.0,346.1 1346.0,345.7 1348.0,345.5 1350.0,342.7 1352.0,345.0 1354.0,345.5 1356.0,343.8 1358.0,344.5 1360.0,341.6 1362.0,342.8 1364.0,343.6 1366.0,344.1 1368.0,344.1 1370.0,345.4 1372.0,343.5 1374.0,340.8 1376.0,344.8 1378.0,341.7 1380.0,342.1 1382.0,346.2 1384.0,344.4 1386.0,343.4 1388.0,342.5 1390.0,343.5 1392.0,343.4 1394.0,345.2 1396.0,343.7 1398.0,342.2 1400.0,345.8 1402.0,344.3 1404.0,342.7 1406.0,342.8 1408.0,344.2 1410.0,342.7 1412.0,344.6 1414.0,344.7 1416.0,341.9 1418.0,345.5 1420.0,345.4 1422.0,346.4 1424.0,345.2 1426.0,345.3 1428.0,343.9 1430.0,342.2 1432.0,343.3 1434.0,347.8 1436.0,345.8 1438.0,347.7 1440.0,345.4 1442.0,346.6 1444.0,344.1 1446.0,345.1 1448.0,345.7 1450.0,346.5 1452.0,346.6 1454.0,346.6 1456.0,346.5 1458.0,346.9 1460.0,349.3 1462.0,346.7 1464.0,347.9 1466.0,344.7 1468.0,346.4 1470.0,346.7 1472.0,346.7 1474.0,345.7 1476.0,345.9 1478.0,348.1 1480.0,346.1 1482.0,345.7 1484.0,343.3 1486.0,342.8 1488.0,343.8 1490.0,343.1 1492.0,347.3 1494.0,343.7" fill="none" stroke="#121212" stroke-width="2.7" stroke-linejoin="round"/>
<polyline points="848.0,420.2 850.0,420.0 852.0,421.2 854.0,418.4 856.0,419.9 858.0,419.9 860.0,418.1 862.0,416.6 864.0,417.8 866.0,418.4 868.0,417.8 870.0,416.1 872.0,416.8 874.0,416.9 876.0,415.9 878.0,415.9 880.0,417.8 882.0,415.3 884.0,414.2 886.0,413.1 888.0,413.3 890.0,413.3 892.0,414.3 894.0,413.2 896.0,411.6 898.0,413.5 900.0,411.2 902.0,411.4 904.0,409.1 906.0,408.7 908.0,409.0 910.0,410.9 912.0,409.6 914.0,409.9 916.0,408.7 918.0,407.8 920.0,407.6 922.0,407.3 924.0,407.9 926.0,406.1 928.0,407.2 930.0,405.5 932.0,405.9 934.0,404.4 936.0,404.5 938.0,403.2 940.0,403.2 942.0,402.0 944.0,400.9 946.0,399.6 948.0,402.1 950.0,401.2 952.0,402.4 954.0,401.5 956.0,399.8 958.0,402.5 960.0,399.5 962.0,399.6 964.0,398.3 966.0,397.2 968.0,396.7 970.0,396.3 972.0,397.1 974.0,395.0 976.0,393.0 978.0,396.7 980.0,393.7 982.0,394.7 984.0,394.4 986.0,394.3 988.0,393.6 990.0,395.3 992.0,393.6 994.0,392.7 996.0,392.4 998.0,391.7 1000.0,393.7 1002.0,389.8 1004.0,390.3 1006.0,389.2 1008.0,386.0 1010.0,387.1 1012.0,388.6 1014.0,386.8 1016.0,381.8 1018.0,384.0 1020.0,380.0 1022.0,383.9 1024.0,380.7 1026.0,379.2 1028.0,383.6 1030.0,379.6 1032.0,378.5 1034.0,375.9 1036.0,377.1 1038.0,376.3 1040.0,375.9 1042.0,371.0 1044.0,373.1 1046.0,372.6 1048.0,372.4 1050.0,371.1 1052.0,370.8 1054.0,369.0 1056.0,370.0 1058.0,369.7 1060.0,364.0 1062.0,363.9 1064.0,363.5 1066.0,362.7 1068.0,358.5 1070.0,357.9 1072.0,357.1 1074.0,355.7 1076.0,354.9 1078.0,352.4 1080.0,349.5 1082.0,343.7 1084.0,345.8 1086.0,339.5 1088.0,333.8 1090.0,331.4 1092.0,329.3 1094.0,326.1 1096.0,323.7 1098.0,322.4 1100.0,320.4 1102.0,317.5 1104.0,316.4 1106.0,313.5 1108.0,314.5 1110.0,309.8 1112.0,310.0 1114.0,302.9 1116.0,304.1 1118.0,300.0 1120.0,296.6 1122.0,290.6 1124.0,286.6 1126.0,280.9 1128.0,274.5 1130.0,265.3 1132.0,265.8 1134.0,259.1 1136.0,252.7 1138.0,247.9 1140.0,243.7 1142.0,240.3 1144.0,233.9 1146.0,233.9 1148.0,229.9 1150.0,224.7 1152.0,223.9 1154.0,222.1 1156.0,223.0 1158.0,221.8 1160.0,224.8 1162.0,227.2 1164.0,230.2 1166.0,233.8 1168.0,239.2 1170.0,241.0 1172.0,243.2 1174.0,246.2 1176.0,248.6 1178.0,253.2 1180.0,254.1 1182.0,256.8 1184.0,261.0 1186.0,259.3 1188.0,260.9 1190.0,262.7 1192.0,263.3 1194.0,264.5 1196.0,266.4 1198.0,263.1 1200.0,264.2 1202.0,264.6 1204.0,264.1 1206.0,265.1 1208.0,263.1 1210.0,262.8 1212.0,259.1 1214.0,258.7 1216.0,256.7 1218.0,258.5 1220.0,258.6 1222.0,251.0 1224.0,252.7 1226.0,248.8 1228.0,245.4 1230.0,237.1 1232.0,229.5 1234.0,217.9 1236.0,204.3 1238.0,194.9 1240.0,180.7 1242.0,172.3 1244.0,159.8 1246.0,152.3 1248.0,149.7 1250.0,153.6 1252.0,167.4 1254.0,190.5 1256.0,222.8 1258.0,246.1 1260.0,263.2 1262.0,279.9 1264.0,292.3 1266.0,301.0 1268.0,310.9 1270.0,313.3 1272.0,318.5 1274.0,322.0 1276.0,323.2 1278.0,322.3 1280.0,329.1 1282.0,331.4 1284.0,329.2 1286.0,330.0 1288.0,331.8 1290.0,332.8 1292.0,336.9 1294.0,336.4 1296.0,338.1 1298.0,334.4 1300.0,335.8 1302.0,335.9 1304.0,335.7 1306.0,334.8 1308.0,335.9 1310.0,336.8 1312.0,335.5 1314.0,336.1 1316.0,334.9 1318.0,337.5 1320.0,337.2 1322.0,336.5 1324.0,337.2 1326.0,337.0 1328.0,337.5 1330.0,339.0 1332.0,336.7 1334.0,337.4 1336.0,336.3 1338.0,339.0 1340.0,337.3 1342.0,335.9 1344.0,336.3 1346.0,335.8 1348.0,335.9 1350.0,336.4 1352.0,337.8 1354.0,336.7 1356.0,336.2 1358.0,336.6 1360.0,336.1 1362.0,337.3 1364.0,334.6 1366.0,336.1 1368.0,336.2 1370.0,335.6 1372.0,337.2 1374.0,335.6 1376.0,336.0 1378.0,334.4 1380.0,337.2 1382.0,336.2 1384.0,336.9 1386.0,335.7 1388.0,333.6 1390.0,336.1 1392.0,337.4 1394.0,337.7 1396.0,336.3 1398.0,337.8 1400.0,334.6 1402.0,336.9 1404.0,336.3 1406.0,336.8 1408.0,336.2 1410.0,338.5 1412.0,336.7 1414.0,339.3 1416.0,335.8 1418.0,337.2 1420.0,337.3 1422.0,338.0 1424.0,337.2 1426.0,337.7 1428.0,336.0 1430.0,337.6 1432.0,338.7 1434.0,336.9 1436.0,338.5 1438.0,338.0 1440.0,337.9 1442.0,337.7 1444.0,340.2 1446.0,339.8 1448.0,339.2 1450.0,339.3 1452.0,340.2 1454.0,339.8 1456.0,341.3 1458.0,341.3 1460.0,339.6 1462.0,340.0 1464.0,339.7 1466.0,339.1 1468.0,339.5 1470.0,340.2 1472.0,339.7 1474.0,339.9 1476.0,339.6 1478.0,341.8 1480.0,340.4 1482.0,338.3 1484.0,340.5 1486.0,341.3 1488.0,340.6 1490.0,339.2 1492.0,339.3 1494.0,339.6" fill="none" stroke="#f01616" stroke-width="2.7" stroke-linejoin="round"/>
<polyline points="848.0,420.8 850.0,421.3 852.0,422.4 854.0,421.3 856.0,419.0 858.0,419.9 860.0,419.5 862.0,418.0 864.0,419.1 866.0,416.5 868.0,417.2 870.0,416.8 872.0,416.1 874.0,415.8 876.0,415.6 878.0,416.7 880.0,413.2 882.0,413.5 884.0,413.0 886.0,411.4 888.0,405.8 890.0,413.5 892.0,409.6 894.0,409.0 896.0,410.3 898.0,408.5 900.0,407.7 902.0,408.0 904.0,404.1 906.0,406.8 908.0,405.5 910.0,403.7 912.0,405.2 914.0,406.2 916.0,403.0 918.0,403.6 920.0,402.2 922.0,402.7 924.0,402.0 926.0,400.1 928.0,401.3 930.0,400.0 932.0,399.4 934.0,399.4 936.0,397.6 938.0,397.9 940.0,397.9 942.0,394.4 944.0,396.5 946.0,394.5 948.0,394.1 950.0,392.4 952.0,393.5 954.0,392.0 956.0,393.4 958.0,391.0 960.0,391.3 962.0,390.4 964.0,390.4 966.0,388.7 968.0,388.1 970.0,389.1 972.0,388.5 974.0,387.2 976.0,388.1 978.0,384.8 980.0,386.1 982.0,383.2 984.0,386.0 986.0,383.0 988.0,382.3 990.0,384.1 992.0,381.5 994.0,380.8 996.0,377.2 998.0,378.2 1000.0,376.0 1002.0,375.9 1004.0,375.1 1006.0,376.1 1008.0,372.6 1010.0,372.4 1012.0,371.8 1014.0,371.9 1016.0,372.2 1018.0,369.1 1020.0,366.7 1022.0,366.4 1024.0,365.7 1026.0,361.8 1028.0,363.1 1030.0,361.1 1032.0,360.2 1034.0,359.1 1036.0,357.6 1038.0,355.8 1040.0,354.4 1042.0,351.9 1044.0,351.1 1046.0,348.1 1048.0,347.5 1050.0,345.7 1052.0,344.1 1054.0,340.5 1056.0,335.2 1058.0,335.9 1060.0,332.9 1062.0,332.4 1064.0,329.6 1066.0,327.6 1068.0,327.6 1070.0,323.9 1072.0,321.9 1074.0,319.8 1076.0,317.5 1078.0,312.7 1080.0,310.8 1082.0,308.5 1084.0,302.7 1086.0,299.3 1088.0,297.1 1090.0,292.5 1092.0,288.6 1094.0,285.7 1096.0,282.6 1098.0,277.9 1100.0,275.3 1102.0,271.5 1104.0,267.8 1106.0,264.9 1108.0,260.6 1110.0,257.5 1112.0,253.5 1114.0,247.8 1116.0,245.0 1118.0,240.6 1120.0,236.8 1122.0,229.9 1124.0,225.6 1126.0,221.3 1128.0,214.8 1130.0,207.2 1132.0,198.6 1134.0,191.2 1136.0,187.6 1138.0,179.0 1140.0,172.8 1142.0,168.4 1144.0,163.9 1146.0,158.8 1148.0,154.4 1150.0,149.6 1152.0,140.8 1154.0,139.1 1156.0,137.6 1158.0,137.4 1160.0,142.8 1162.0,133.8 1164.0,135.6 1166.0,138.2 1168.0,136.1 1170.0,140.2 1172.0,141.4 1174.0,146.5 1176.0,152.9 1178.0,154.4 1180.0,152.9 1182.0,156.8 1184.0,160.9 1186.0,164.8 1188.0,165.2 1190.0,168.0 1192.0,168.9 1194.0,169.6 1196.0,170.9 1198.0,168.6 1200.0,166.6 1202.0,166.0 1204.0,164.4 1206.0,164.3 1208.0,162.2 1210.0,159.2 1212.0,157.8 1214.0,155.2 1216.0,149.5 1218.0,149.1 1220.0,138.7 1222.0,139.9 1224.0,134.9 1226.0,128.1 1228.0,121.4 1230.0,114.7 1232.0,107.7 1234.0,97.5 1236.0,87.5 1238.0,78.0 1240.0,69.2 1242.0,60.1 1244.0,53.4 1246.0,45.8 1248.0,48.6 1250.0,58.6 1252.0,77.3 1254.0,100.4 1256.0,121.9 1258.0,141.2 1260.0,160.8 1262.0,179.7 1264.0,197.0 1266.0,208.6 1268.0,217.2 1270.0,230.9 1272.0,239.6 1274.0,248.3 1276.0,250.6 1278.0,254.8 1280.0,261.3 1282.0,262.5 1284.0,264.1 1286.0,265.9 1288.0,267.8 1290.0,267.5 1292.0,269.5 1294.0,270.7 1296.0,271.6 1298.0,268.1 1300.0,273.1 1302.0,272.5 1304.0,273.0 1306.0,273.6 1308.0,273.3 1310.0,275.6 1312.0,273.7 1314.0,274.9 1316.0,274.0 1318.0,275.6 1320.0,277.1 1322.0,277.2 1324.0,274.7 1326.0,276.4 1328.0,277.5 1330.0,275.1 1332.0,275.5 1334.0,275.9 1336.0,275.6 1338.0,274.7 1340.0,274.9 1342.0,274.9 1344.0,274.1 1346.0,274.8 1348.0,274.5 1350.0,274.8 1352.0,274.3 1354.0,273.8 1356.0,274.0 1358.0,275.9 1360.0,273.2 1362.0,272.9 1364.0,270.5 1366.0,275.2 1368.0,277.6 1370.0,273.2 1372.0,273.3 1374.0,273.0 1376.0,274.1 1378.0,273.9 1380.0,274.9 1382.0,273.1 1384.0,275.3 1386.0,274.0 1388.0,275.0 1390.0,275.2 1392.0,276.1 1394.0,274.6 1396.0,275.1 1398.0,275.2 1400.0,274.4 1402.0,275.5 1404.0,277.5 1406.0,277.6 1408.0,273.2 1410.0,276.7 1412.0,276.1 1414.0,275.4 1416.0,275.6 1418.0,277.8 1420.0,279.4 1422.0,277.0 1424.0,276.7 1426.0,276.9 1428.0,277.7 1430.0,277.2 1432.0,274.4 1434.0,275.4 1436.0,277.3 1438.0,276.0 1440.0,276.5 1442.0,277.3 1444.0,277.4 1446.0,278.5 1448.0,278.8 1450.0,278.6 1452.0,278.9 1454.0,284.2 1456.0,276.6 1458.0,280.9 1460.0,282.0 1462.0,280.1 1464.0,278.7 1466.0,280.9 1468.0,280.8 1470.0,281.3 1472.0,281.3 1474.0,283.6 1476.0,280.3 1478.0,283.8 1480.0,279.6 1482.0,283.9 1484.0,281.6 1486.0,282.6 1488.0,277.2 1490.0,282.0 1492.0,282.5 1494.0,282.1" fill="none" stroke="#1414ee" stroke-width="2.7" stroke-linejoin="round"/>
<rect x="847.7" y="11.4" width="648.3" height="478.4" fill="none" stroke="#303030" stroke-width="2"/>
<line x1="847.7" y1="489.8" x2="847.7" y2="499.8" stroke="#303030" stroke-width="1.8"/>
<line x1="937.7" y1="489.8" x2="937.7" y2="495.3" stroke="#303030" stroke-width="1.8"/>
<line x1="1027.7" y1="489.8" x2="1027.7" y2="499.8" stroke="#303030" stroke-width="1.8"/>
<line x1="1117.7" y1="489.8" x2="1117.7" y2="495.3" stroke="#303030" stroke-width="1.8"/>
<line x1="1207.7" y1="489.8" x2="1207.7" y2="499.8" stroke="#303030" stroke-width="1.8"/>
<line x1="1297.7" y1="489.8" x2="1297.7" y2="495.3" stroke="#303030" stroke-width="1.8"/>
<line x1="1387.7" y1="489.8" x2="1387.7" y2="499.8" stroke="#303030" stroke-width="1.8"/>
<line x1="1477.7" y1="489.8" x2="1477.7" y2="495.3" stroke="#303030" stroke-width="1.8"/>
<text transform="translate(824.92,525.08) scale(1.0171,1)" font-size="27.18" fill="#000">500</text>
<text transform="translate(994.71,525.18) scale(1.0731,1)" font-size="26.90" fill="#000"><tspan style="font-family:NanumGothic, 'Liberation Sans', sans-serif;font-weight:800" font-size="24.11">1</tspan>000</text>
<text transform="translate(1176.73,525.18) scale(1.0477,1)" font-size="27.32" fill="#000"><tspan style="font-family:NanumGothic, 'Liberation Sans', sans-serif;font-weight:800" font-size="24.49">1</tspan>500</text>
<text transform="translate(1356.47,524.68) scale(1.0246,1)" font-size="27.46" fill="#000">2000</text>
<text transform="translate(1021.68,576.13) scale(1.0373,1)" font-size="32.24" style="font-family:'Liberation Sans', Arial, Helvetica, sans-serif" fill="#000">Raman Shift</text>
<text transform="translate(1227.28,575.53) scale(0.8847,1)" font-size="28.66" style="font-family:'Liberation Sans', Arial, Helvetica, sans-serif" fill="#000">(</text>
<text transform="translate(1237.74,576.14) scale(1.0561,1)" font-size="31.09" style="font-family:'Liberation Sans', Arial, Helvetica, sans-serif" fill="#000">cm</text>
<text transform="translate(1286.07,559.05) scale(0.7320,1)" font-size="30.00" style="font-family:'Liberation Sans', Arial, Helvetica, sans-serif" fill="#000">-</text>
<text transform="translate(1293.64,559.43) scale(1.1850,1)" font-size="23.17" fill="#000"><tspan style="font-family:NanumGothic, 'Liberation Sans', sans-serif;font-weight:800" font-size="20.76">1</tspan></text>
<text transform="translate(1309.53,575.42) scale(0.8222,1)" font-size="28.24" style="font-family:'Liberation Sans', Arial, Helvetica, sans-serif" fill="#000">)</text>
<text transform="translate(827.73,328.98) rotate(-90) scale(1.0248,1)" font-size="31.98" style="font-family:'Liberation Sans', Arial, Helvetica, sans-serif" fill="#000">Intensity</text>
<text transform="translate(1151.34,128.05) scale(0.9617,1)" font-size="27.39" style="font-family:'Liberation Sans', Arial, Helvetica, sans-serif" fill="#000">D</text>
<text transform="translate(1236.58,40.68) scale(0.9861,1)" font-size="27.04" style="font-family:'Liberation Sans', Arial, Helvetica, sans-serif" fill="#000">G</text>
<rect x="860.5" y="48.3" width="262.6" height="96.9" fill="#fff" stroke="#808080" stroke-width="1.6"/>
<line x1="871" y1="65.6" x2="930.6" y2="65.6" stroke="#1a1a1a" stroke-width="2.6"/>
<text transform="translate(938.13,74.36) scale(1.0747,1)" font-size="23.74" fill="#000">graphene/Cu-<tspan style="font-family:NanumGothic, 'Liberation Sans', sans-serif;font-weight:800" font-size="21.28">1</tspan></text>
<line x1="871" y1="98.4" x2="930.6" y2="98.4" stroke="#e8383c" stroke-width="2.6"/>
<text transform="translate(938.13,107.21) scale(1.0747,1)" font-size="23.74" fill="#000">graphene/Cu-3</text>
<line x1="871" y1="131.3" x2="930.6" y2="131.3" stroke="#1818dc" stroke-width="2.6"/>
<text transform="translate(938.13,140.06) scale(1.0747,1)" font-size="23.74" fill="#000">graphene/Cu-2</text>
<text transform="translate(793.92,27.19) scale(1.0120,1)" font-size="36.81" style="font-family:'Liberation Serif', 'Times New Roman', Times, serif;font-weight:normal" fill="#000" stroke="#000" stroke-width="0.9">(</text>
<text transform="translate(807.94,29.25) scale(1.0150,1)" font-size="40.00" style="font-family:'Liberation Serif', 'Times New Roman', Times, serif" fill="#000">b</text>
<text transform="translate(830.54,27.28) scale(0.9506,1)" font-size="37.22" style="font-family:'Liberation Serif', 'Times New Roman', Times, serif;font-weight:normal" fill="#000" stroke="#000" stroke-width="0.9">)</text>
</svg></body></html>
